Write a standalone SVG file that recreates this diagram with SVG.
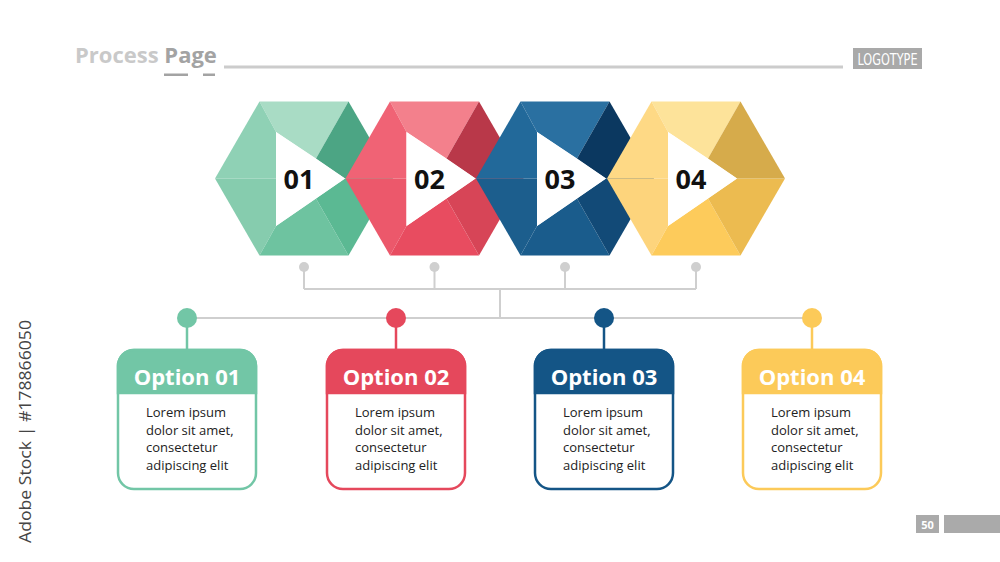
<svg xmlns="http://www.w3.org/2000/svg" xmlns:xlink="http://www.w3.org/1999/xlink" width="1000" height="562" viewBox="0 0 1000 562">
<style>
.num{font-family:"Open Sans","Liberation Sans",sans-serif;font-weight:bold;font-size:27px;fill:#111;text-anchor:middle}
.hd{font-family:"Open Sans","Liberation Sans",sans-serif;font-weight:bold;font-size:22px;fill:#fff;text-anchor:middle}
.bd{font-family:"Open Sans","Liberation Sans",sans-serif;font-size:13px;fill:#222}
.gl{stroke:#cfcfcf;stroke-width:2;fill:none}
.box{fill:#fff;stroke-width:2.5}
</style>
<defs>
<path id="f-top" d="M-44.5,-77 L44.5,-77 L12,-20 L-28,-46.5 Z"/>
<path id="f-ur" d="M44.5,-77 L89,0 L41,0 L12,-20 Z"/>
<path id="f-lr" d="M89,0 L44.5,77 L12,20 L41,0 Z"/>
<path id="f-bot" d="M44.5,77 L-44.5,77 L-28,47.5 L12,20 Z"/>
<path id="f-ll" d="M-44.5,77 L-89,0 L-28,0 L-28,47.5 Z"/>
<path id="f-ul" d="M-89,0 L-44.5,-77 L-28,-46.5 L-28,0 Z"/>
<path id="tri" d="M-28,-46.5 L41,0 L-28,47.5 Z" fill="#fff"/>
<path id="hdr" d="M0,43 V16 A16,16 0 0 1 16,0 H122 A16,16 0 0 1 138,16 V43 Z"/>
</defs>
<rect width="1000" height="562" fill="#fff"/>

<g id="header">
<text x="75" y="63" font-family="Open Sans, Liberation Sans, sans-serif" font-weight="bold" font-size="22"><tspan fill="#c9c9c9">Process </tspan><tspan fill="#a3a3a3">Page</tspan></text>
<rect x="164" y="73.5" width="24" height="2.5" fill="#a3a3a3"/>
<rect x="203" y="73.5" width="12" height="2.5" fill="#a3a3a3"/>
<rect x="224" y="65.5" width="619" height="3" fill="#cccccc"/>
<rect x="853" y="48" width="69" height="21" fill="#a9a9a9"/>
<text x="887.5" y="64.5" font-family="Liberation Sans Narrow, DejaVu Sans Condensed, Liberation Sans, sans-serif" font-size="16" fill="#fff" text-anchor="middle" textLength="60" lengthAdjust="spacingAndGlyphs">LOGOTYPE</text>
</g>

<g id="hex1" transform="translate(304,178.5)">
<use xlink:href="#f-top" fill="#a9dcc5"/><use xlink:href="#f-ul" fill="#8fd1b5"/><use xlink:href="#f-ll" fill="#86ccae"/>
<use xlink:href="#f-bot" fill="#6ec3a0"/><use xlink:href="#f-lr" fill="#5bb993"/><use xlink:href="#f-ur" fill="#4ca584"/>
<use xlink:href="#tri"/>
<text class="num" x="-5" y="10.5">01</text>
</g>
<g id="hex2" transform="translate(434.5,178.5)">
<use xlink:href="#f-top" fill="#f3808c"/><use xlink:href="#f-ul" fill="#f06375"/><use xlink:href="#f-ll" fill="#ec586b"/>
<use xlink:href="#f-bot" fill="#e84c60"/><use xlink:href="#f-lr" fill="#d74557"/><use xlink:href="#f-ur" fill="#b93849"/>
<use xlink:href="#tri"/>
<text class="num" x="-5" y="10.5">02</text>
</g>
<g id="hex3" transform="translate(565,178.5)">
<use xlink:href="#f-top" fill="#2a70a1"/><use xlink:href="#f-ul" fill="#22699a"/><use xlink:href="#f-ll" fill="#1c5e8d"/>
<use xlink:href="#f-bot" fill="#1a5c8c"/><use xlink:href="#f-lr" fill="#124a77"/><use xlink:href="#f-ur" fill="#0b3860"/>
<use xlink:href="#tri"/>
<text class="num" x="-5" y="10.5">03</text>
</g>
<g id="hex4" transform="translate(696,178.5)">
<use xlink:href="#f-top" fill="#fde39a"/><use xlink:href="#f-ul" fill="#fed985"/><use xlink:href="#f-ll" fill="#fdd47c"/>
<use xlink:href="#f-bot" fill="#fdcb5b"/><use xlink:href="#f-lr" fill="#ecbb50"/><use xlink:href="#f-ur" fill="#d6ab4b"/>
<use xlink:href="#tri"/>
<text class="num" x="-5" y="10.5">04</text>
</g>

<g id="connectors">
<path class="gl" d="M304,267 V289 M434.5,267 V289 M565,267 V289 M696,267 V289 M304,289 H696 M500,289 V318 M187,318 H812"/>
<circle cx="304" cy="267" r="5" fill="#cfcfcf"/>
<circle cx="434.5" cy="267" r="5" fill="#cfcfcf"/>
<circle cx="565" cy="267" r="5" fill="#cfcfcf"/>
<circle cx="696" cy="267" r="5" fill="#cfcfcf"/>
<path d="M187,318 V350" stroke="#72c6a6" stroke-width="2.5"/>
<path d="M396,318 V350" stroke="#e5485c" stroke-width="2.5"/>
<path d="M604,318 V350" stroke="#145586" stroke-width="2.5"/>
<path d="M812,318 V350" stroke="#fcca59" stroke-width="2.5"/>
<circle cx="187" cy="318" r="10" fill="#72c6a6"/>
<circle cx="396" cy="318" r="10" fill="#e5485c"/>
<circle cx="604" cy="318" r="10" fill="#145586"/>
<circle cx="812" cy="318" r="10" fill="#fcca59"/>
</g>

<g id="option1">
<rect class="box" x="118" y="350" width="138" height="139" rx="16" stroke="#72c6a6"/>
<use xlink:href="#hdr" x="118" y="350" fill="#72c6a6" stroke="#72c6a6" stroke-width="2.5"/>
<text class="hd" x="187" y="384.5">Option 01</text>
<text class="bd"><tspan x="146" y="417">Lorem ipsum</tspan><tspan x="146" y="434.5">dolor sit amet,</tspan><tspan x="146" y="452">consectetur</tspan><tspan x="146" y="469.5">adipiscing elit</tspan></text>
</g>
<g id="option2">
<rect class="box" x="327" y="350" width="138" height="139" rx="16" stroke="#e5485c"/>
<use xlink:href="#hdr" x="327" y="350" fill="#e5485c" stroke="#e5485c" stroke-width="2.5"/>
<text class="hd" x="396" y="384.5">Option 02</text>
<text class="bd"><tspan x="355" y="417">Lorem ipsum</tspan><tspan x="355" y="434.5">dolor sit amet,</tspan><tspan x="355" y="452">consectetur</tspan><tspan x="355" y="469.5">adipiscing elit</tspan></text>
</g>
<g id="option3">
<rect class="box" x="535" y="350" width="138" height="139" rx="16" stroke="#145586"/>
<use xlink:href="#hdr" x="535" y="350" fill="#145586" stroke="#145586" stroke-width="2.5"/>
<text class="hd" x="604" y="384.5">Option 03</text>
<text class="bd"><tspan x="563" y="417">Lorem ipsum</tspan><tspan x="563" y="434.5">dolor sit amet,</tspan><tspan x="563" y="452">consectetur</tspan><tspan x="563" y="469.5">adipiscing elit</tspan></text>
</g>
<g id="option4">
<rect class="box" x="743" y="350" width="138" height="139" rx="16" stroke="#fcca59"/>
<use xlink:href="#hdr" x="743" y="350" fill="#fcca59" stroke="#fcca59" stroke-width="2.5"/>
<text class="hd" x="812" y="384.5">Option 04</text>
<text class="bd"><tspan x="771" y="417">Lorem ipsum</tspan><tspan x="771" y="434.5">dolor sit amet,</tspan><tspan x="771" y="452">consectetur</tspan><tspan x="771" y="469.5">adipiscing elit</tspan></text>
</g>

<g id="footer">
<rect x="916" y="515" width="23" height="18" fill="#aaaaaa"/>
<text x="927.5" y="528.5" font-family="Open Sans, Liberation Sans, sans-serif" font-weight="bold" font-size="11" fill="#fff" text-anchor="middle">50</text>
<rect x="944" y="515" width="56" height="18" fill="#aaaaaa"/>
<text transform="translate(31,543) rotate(-90)" font-family="Open Sans, Liberation Sans, sans-serif" font-size="17" fill="#444" textLength="223" lengthAdjust="spacingAndGlyphs">Adobe Stock | #178866050</text>
</g>
</svg>
